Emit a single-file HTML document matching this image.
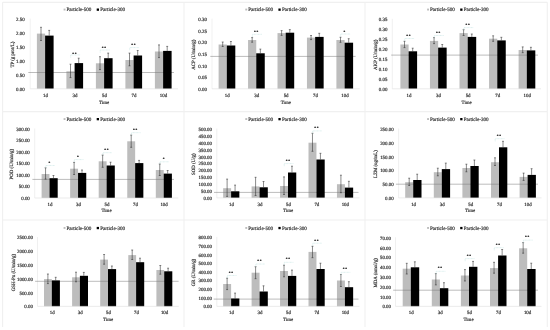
<!DOCTYPE html>
<html lang="en">
<head>
<meta charset="utf-8">
<title>Enzyme activity charts</title>
<style>
html,body{margin:0;padding:0;background:#fff;}
body{width:550px;height:330px;overflow:hidden;}
svg{display:block;}
svg text{font-family:"Liberation Serif", "DejaVu Serif", serif;stroke:#383838;stroke-width:0.2px;}
</style>
</head>
<body>
<svg width="550" height="330" viewBox="0 0 550 330" text-rendering="geometricPrecision">
<rect width="550" height="330" fill="#fff"/>
<g stroke="#f0f0f0" stroke-width="1.1" fill="none">
<line x1="2.6" y1="2.3" x2="2.6" y2="327"/>
<line x1="184.0" y1="2.3" x2="184.0" y2="327"/>
<line x1="365.0" y1="2.3" x2="365.0" y2="327"/>
<line x1="547.3" y1="2.3" x2="547.3" y2="327"/>
<line x1="2.6" y1="2.4" x2="547.3" y2="2.4"/>
<line x1="2.6" y1="111.6" x2="547.3" y2="111.6"/>
<line x1="2.6" y1="220.0" x2="547.3" y2="220.0"/>
</g>
<g id="TP">
<rect x="63.6" y="8.6" width="1.9" height="1.9" fill="#bdbdbd"/>
<text x="66.5" y="11.2" font-size="5.1" fill="#383838">Particle-500</text>
<rect x="96.7" y="8.5" width="2.3" height="2.3" fill="#000"/>
<text x="100.2" y="11.2" font-size="5.1" fill="#383838">Particle-300</text>
<text x="24.6" y="90.75" font-size="4.9" fill="#383838" text-anchor="end">0.00</text>
<text x="24.6" y="76.81" font-size="4.9" fill="#383838" text-anchor="end">0.50</text>
<text x="24.6" y="62.87" font-size="4.9" fill="#383838" text-anchor="end">1.00</text>
<text x="24.6" y="48.93" font-size="4.9" fill="#383838" text-anchor="end">1.50</text>
<text x="24.6" y="34.99" font-size="4.9" fill="#383838" text-anchor="end">2.00</text>
<text x="24.6" y="21.05" font-size="4.9" fill="#383838" text-anchor="end">2.50</text>
<text transform="translate(13.9,54.65) rotate(-90)" font-size="4.9" fill="#383838" text-anchor="middle">TP (g prot/L)</text>
<line x1="30.2" y1="18.6" x2="30.2" y2="88.8" stroke="#e0e0e0" stroke-width="0.5"/>
<rect x="36.9" y="33.6" width="8.2" height="55.2" fill="#bdbdbd"/>
<rect x="66.4" y="71.3" width="8.2" height="17.5" fill="#bdbdbd"/>
<rect x="95.9" y="63.3" width="8.2" height="25.5" fill="#bdbdbd"/>
<rect x="125.4" y="60" width="8.2" height="28.8" fill="#bdbdbd"/>
<rect x="154.9" y="51.5" width="8.2" height="37.3" fill="#bdbdbd"/>
<line x1="28.3" y1="72.5" x2="174" y2="72.5" stroke="#787878" stroke-width="0.5"/>
<rect x="45.1" y="35.6" width="8.5" height="53.2" fill="#000"/>
<rect x="74.6" y="63.1" width="8.5" height="25.7" fill="#000"/>
<rect x="104.1" y="58.2" width="8.5" height="30.6" fill="#000"/>
<rect x="133.6" y="55.5" width="8.5" height="33.3" fill="#000"/>
<rect x="163.1" y="50.9" width="8.5" height="37.9" fill="#000"/>
<line x1="30.2" y1="88.8" x2="178" y2="88.8" stroke="#dedede" stroke-width="0.6"/>
<g stroke="#2a2a2a" stroke-width="0.55" fill="none">
<path d="M41 27.3V40.5M40.05 27.3H41.95M40.05 40.5H41.95"/>
<path d="M49.2 30.4V35.6M48.25 30.4H50.15"/>
<path d="M70.5 64.2V77.6M69.55 64.2H71.45M69.55 77.6H71.45"/>
<path d="M78.7 58.2V63.1M77.75 58.2H79.65"/>
<path d="M100 56.7V69.6M99.05 56.7H100.95M99.05 69.6H100.95"/>
<path d="M108.2 53.1V58.2M107.25 53.1H109.15"/>
<path d="M129.5 53.1V65.8M128.55 53.1H130.45M128.55 65.8H130.45"/>
<path d="M137.7 50.5V55.5M136.75 50.5H138.65"/>
<path d="M159 44.9V57.6M158.05 44.9H159.95M158.05 57.6H159.95"/>
<path d="M167.2 46.4V50.9M166.25 46.4H168.15"/>
</g>
<path d="M70.7 57.5V54.9H80.1" stroke="#b4dcda" stroke-width="0.5" fill="none" stroke-dasharray="0.9 0.5"/>
<text x="74.85" y="54.5" font-size="3.5" font-weight="bold" fill="#111" stroke="none" letter-spacing="0.75" text-anchor="middle">**</text>
<path d="M100.2 52.6V50H109.6" stroke="#b4dcda" stroke-width="0.5" fill="none" stroke-dasharray="0.9 0.5"/>
<text x="104.35" y="49.4" font-size="3.5" font-weight="bold" fill="#111" stroke="none" letter-spacing="0.75" text-anchor="middle">**</text>
<path d="M129.7 50.2V47.6H139.1" stroke="#b4dcda" stroke-width="0.5" fill="none" stroke-dasharray="0.9 0.5"/>
<text x="133.85" y="46.1" font-size="3.5" font-weight="bold" fill="#111" stroke="none" letter-spacing="0.75" text-anchor="middle">**</text>
<text x="45.5" y="96.55" font-size="4.9" fill="#383838" text-anchor="middle">1d</text>
<text x="75" y="96.55" font-size="4.9" fill="#383838" text-anchor="middle">3d</text>
<text x="104.5" y="96.55" font-size="4.9" fill="#383838" text-anchor="middle">5d</text>
<text x="134" y="96.55" font-size="4.9" fill="#383838" text-anchor="middle">7d</text>
<text x="163.5" y="96.55" font-size="4.9" fill="#383838" text-anchor="middle">10d</text>
<text x="104.1" y="103.85" font-size="4.9" fill="#383838" text-anchor="middle">Time</text>
</g>
<g id="ACP">
<rect x="245.3" y="8.6" width="1.9" height="1.9" fill="#bdbdbd"/>
<text x="248.2" y="11.2" font-size="5.1" fill="#383838">Particle-500</text>
<rect x="278.4" y="8.5" width="2.3" height="2.3" fill="#000"/>
<text x="281.9" y="11.2" font-size="5.1" fill="#383838">Particle-300</text>
<text x="206.9" y="90.75" font-size="4.9" fill="#383838" text-anchor="end">0.00</text>
<text x="206.9" y="79.15" font-size="4.9" fill="#383838" text-anchor="end">0.05</text>
<text x="206.9" y="67.55" font-size="4.9" fill="#383838" text-anchor="end">0.10</text>
<text x="206.9" y="55.95" font-size="4.9" fill="#383838" text-anchor="end">0.15</text>
<text x="206.9" y="44.35" font-size="4.9" fill="#383838" text-anchor="end">0.20</text>
<text x="206.9" y="32.75" font-size="4.9" fill="#383838" text-anchor="end">0.25</text>
<text x="206.9" y="21.15" font-size="4.9" fill="#383838" text-anchor="end">0.30</text>
<text transform="translate(194.7,54.7) rotate(-90)" font-size="4.9" fill="#383838" text-anchor="middle">ACP  (U/min/g)</text>
<line x1="212" y1="18.7" x2="212" y2="88.8" stroke="#e0e0e0" stroke-width="0.5"/>
<rect x="218.6" y="44.5" width="8.2" height="44.3" fill="#bdbdbd"/>
<rect x="248.05" y="40" width="8.2" height="48.8" fill="#bdbdbd"/>
<rect x="277.5" y="33.1" width="8.2" height="55.7" fill="#bdbdbd"/>
<rect x="306.95" y="37.6" width="8.2" height="51.2" fill="#bdbdbd"/>
<rect x="336.4" y="40" width="8.2" height="48.8" fill="#bdbdbd"/>
<line x1="210.3" y1="56.4" x2="355.6" y2="56.4" stroke="#787878" stroke-width="0.5"/>
<rect x="226.8" y="45.5" width="8.5" height="43.3" fill="#000"/>
<rect x="256.25" y="53.3" width="8.5" height="35.5" fill="#000"/>
<rect x="285.7" y="32.7" width="8.5" height="56.1" fill="#000"/>
<rect x="315.15" y="36.9" width="8.5" height="51.9" fill="#000"/>
<rect x="344.6" y="42.7" width="8.5" height="46.1" fill="#000"/>
<line x1="212" y1="88.8" x2="359.7" y2="88.8" stroke="#dedede" stroke-width="0.6"/>
<g stroke="#2a2a2a" stroke-width="0.55" fill="none">
<path d="M222.7 42V46.5M221.75 42H223.65M221.75 46.5H223.65"/>
<path d="M230.9 41.5V45.5M229.95 41.5H231.85"/>
<path d="M252.15 37.6V42.2M251.2 37.6H253.1M251.2 42.2H253.1"/>
<path d="M260.35 49.1V53.3M259.4 49.1H261.3"/>
<path d="M281.6 30.6V35.4M280.65 30.6H282.55M280.65 35.4H282.55"/>
<path d="M289.8 29.6V32.7M288.85 29.6H290.75"/>
<path d="M311.05 35.5V39.6M310.1 35.5H312M310.1 39.6H312"/>
<path d="M319.25 33.3V36.9M318.3 33.3H320.2"/>
<path d="M340.5 37.3V42.3M339.55 37.3H341.45M339.55 42.3H341.45"/>
<path d="M348.7 38.7V42.7M347.75 38.7H349.65"/>
</g>
<path d="M252.35 36.9V34.3H261.75" stroke="#b4dcda" stroke-width="0.5" fill="none" stroke-dasharray="0.9 0.5"/>
<text x="256.5" y="32.5" font-size="3.5" font-weight="bold" fill="#111" stroke="none" letter-spacing="0.75" text-anchor="middle">**</text>
<path d="M340.7 36.6V34H350.1" stroke="#b4dcda" stroke-width="0.5" fill="none" stroke-dasharray="0.9 0.5"/>
<text x="344.85" y="32.6" font-size="3.5" font-weight="bold" fill="#111" stroke="none" letter-spacing="0.75" text-anchor="middle">*</text>
<text x="227.2" y="96.55" font-size="4.9" fill="#383838" text-anchor="middle">1d</text>
<text x="256.65" y="96.55" font-size="4.9" fill="#383838" text-anchor="middle">3d</text>
<text x="286.1" y="96.55" font-size="4.9" fill="#383838" text-anchor="middle">5d</text>
<text x="315.55" y="96.55" font-size="4.9" fill="#383838" text-anchor="middle">7d</text>
<text x="345" y="96.55" font-size="4.9" fill="#383838" text-anchor="middle">10d</text>
<text x="285.85" y="103.85" font-size="4.9" fill="#383838" text-anchor="middle">Time</text>
</g>
<g id="AKP">
<rect x="427.1" y="8.6" width="1.9" height="1.9" fill="#bdbdbd"/>
<text x="430" y="11.2" font-size="5.1" fill="#383838">Particle-500</text>
<rect x="460.2" y="8.5" width="2.3" height="2.3" fill="#000"/>
<text x="463.7" y="11.2" font-size="5.1" fill="#383838">Particle-300</text>
<text x="387.4" y="90.75" font-size="4.9" fill="#383838" text-anchor="end">0.00</text>
<text x="387.4" y="80.82" font-size="4.9" fill="#383838" text-anchor="end">0.05</text>
<text x="387.4" y="70.89" font-size="4.9" fill="#383838" text-anchor="end">0.10</text>
<text x="387.4" y="60.96" font-size="4.9" fill="#383838" text-anchor="end">0.15</text>
<text x="387.4" y="51.04" font-size="4.9" fill="#383838" text-anchor="end">0.20</text>
<text x="387.4" y="41.11" font-size="4.9" fill="#383838" text-anchor="end">0.25</text>
<text x="387.4" y="31.18" font-size="4.9" fill="#383838" text-anchor="end">0.30</text>
<text x="387.4" y="21.25" font-size="4.9" fill="#383838" text-anchor="end">0.35</text>
<text transform="translate(376.5,54.75) rotate(-90)" font-size="4.9" fill="#383838" text-anchor="middle">AKP (U/min/g)</text>
<line x1="392.3" y1="18.8" x2="392.3" y2="88.8" stroke="#e0e0e0" stroke-width="0.5"/>
<rect x="400.4" y="44.5" width="8.2" height="44.3" fill="#bdbdbd"/>
<rect x="429.95" y="40.9" width="8.2" height="47.9" fill="#bdbdbd"/>
<rect x="459.5" y="33.1" width="8.2" height="55.7" fill="#bdbdbd"/>
<rect x="489.05" y="38.7" width="8.2" height="50.1" fill="#bdbdbd"/>
<rect x="518.6" y="50" width="8.2" height="38.8" fill="#bdbdbd"/>
<line x1="391.2" y1="55.1" x2="538" y2="55.1" stroke="#787878" stroke-width="0.5"/>
<rect x="408.6" y="51.3" width="8.5" height="37.5" fill="#000"/>
<rect x="438.15" y="47.6" width="8.5" height="41.2" fill="#000"/>
<rect x="467.7" y="36.9" width="8.5" height="51.9" fill="#000"/>
<rect x="497.25" y="40.4" width="8.5" height="48.4" fill="#000"/>
<rect x="526.8" y="50.4" width="8.5" height="38.4" fill="#000"/>
<line x1="392.3" y1="88.8" x2="541" y2="88.8" stroke="#dedede" stroke-width="0.6"/>
<g stroke="#2a2a2a" stroke-width="0.55" fill="none">
<path d="M404.5 41.3V47.6M403.55 41.3H405.45M403.55 47.6H405.45"/>
<path d="M412.7 48.2V51.3M411.75 48.2H413.65"/>
<path d="M434.05 37.6V43.6M433.1 37.6H435M433.1 43.6H435"/>
<path d="M442.25 44.5V47.6M441.3 44.5H443.2"/>
<path d="M463.6 29.7V35.5M462.65 29.7H464.55M462.65 35.5H464.55"/>
<path d="M471.8 34V36.9M470.85 34H472.75"/>
<path d="M493.15 35.8V41.3M492.2 35.8H494.1M492.2 41.3H494.1"/>
<path d="M501.35 37.3V40.4M500.4 37.3H502.3"/>
<path d="M522.7 46.9V52.7M521.75 46.9H523.65M521.75 52.7H523.65"/>
<path d="M530.9 47.3V50.4M529.95 47.3H531.85"/>
</g>
<path d="M404.7 41.1V38.5H414.1" stroke="#b4dcda" stroke-width="0.5" fill="none" stroke-dasharray="0.9 0.5"/>
<text x="408.85" y="36.6" font-size="3.5" font-weight="bold" fill="#111" stroke="none" letter-spacing="0.75" text-anchor="middle">**</text>
<path d="M434.25 38.1V35.5H443.65" stroke="#b4dcda" stroke-width="0.5" fill="none" stroke-dasharray="0.9 0.5"/>
<text x="438.4" y="33.6" font-size="3.5" font-weight="bold" fill="#111" stroke="none" letter-spacing="0.75" text-anchor="middle">**</text>
<path d="M463.8 30.2V27.6H473.2" stroke="#b4dcda" stroke-width="0.5" fill="none" stroke-dasharray="0.9 0.5"/>
<text x="467.95" y="26.3" font-size="3.5" font-weight="bold" fill="#111" stroke="none" letter-spacing="0.75" text-anchor="middle">**</text>
<text x="409" y="96.55" font-size="4.9" fill="#383838" text-anchor="middle">1d</text>
<text x="438.55" y="96.55" font-size="4.9" fill="#383838" text-anchor="middle">3d</text>
<text x="468.1" y="96.55" font-size="4.9" fill="#383838" text-anchor="middle">5d</text>
<text x="497.65" y="96.55" font-size="4.9" fill="#383838" text-anchor="middle">7d</text>
<text x="527.2" y="96.55" font-size="4.9" fill="#383838" text-anchor="middle">10d</text>
<text x="466.65" y="103.85" font-size="4.9" fill="#383838" text-anchor="middle">Time</text>
</g>
<g id="POD">
<rect x="63.6" y="118.1" width="1.9" height="1.9" fill="#bdbdbd"/>
<text x="66.5" y="120.7" font-size="5.1" fill="#383838">Particle-500</text>
<rect x="96.7" y="118" width="2.3" height="2.3" fill="#000"/>
<text x="100.2" y="120.7" font-size="5.1" fill="#383838">Particle-300</text>
<text x="29.8" y="199.95" font-size="4.9" fill="#383838" text-anchor="end">0.00</text>
<text x="29.8" y="188.45" font-size="4.9" fill="#383838" text-anchor="end">50.00</text>
<text x="29.8" y="176.95" font-size="4.9" fill="#383838" text-anchor="end">100.00</text>
<text x="29.8" y="165.45" font-size="4.9" fill="#383838" text-anchor="end">150.00</text>
<text x="29.8" y="153.95" font-size="4.9" fill="#383838" text-anchor="end">200.00</text>
<text x="29.8" y="142.45" font-size="4.9" fill="#383838" text-anchor="end">250.00</text>
<text x="29.8" y="130.95" font-size="4.9" fill="#383838" text-anchor="end">300.00</text>
<text transform="translate(13,164.2) rotate(-90)" font-size="4.9" fill="#383838" text-anchor="middle">POD (U/min/g)</text>
<line x1="34.7" y1="128.5" x2="34.7" y2="198" stroke="#e0e0e0" stroke-width="0.5"/>
<rect x="41.6" y="174" width="7.9" height="24" fill="#bdbdbd"/>
<rect x="70.15" y="168.7" width="7.9" height="29.3" fill="#bdbdbd"/>
<rect x="98.7" y="161.3" width="7.9" height="36.7" fill="#bdbdbd"/>
<rect x="127.25" y="141.3" width="7.9" height="56.7" fill="#bdbdbd"/>
<rect x="155.8" y="170" width="7.9" height="28" fill="#bdbdbd"/>
<line x1="32.4" y1="179.4" x2="174" y2="179.4" stroke="#787878" stroke-width="0.5"/>
<rect x="49.5" y="178.2" width="8.2" height="19.8" fill="#000"/>
<rect x="78.05" y="172.9" width="8.2" height="25.1" fill="#000"/>
<rect x="106.6" y="165.5" width="8.2" height="32.5" fill="#000"/>
<rect x="135.15" y="163.1" width="8.2" height="34.9" fill="#000"/>
<rect x="163.7" y="173.6" width="8.2" height="24.4" fill="#000"/>
<line x1="34.7" y1="198" x2="178.3" y2="198" stroke="#dedede" stroke-width="0.6"/>
<g stroke="#2a2a2a" stroke-width="0.55" fill="none">
<path d="M45.55 167.8V179.1M44.6 167.8H46.5M44.6 179.1H46.5"/>
<path d="M53.45 175.5V178.2M52.5 175.5H54.4"/>
<path d="M74.1 162.4V174.5M73.15 162.4H75.05M73.15 174.5H75.05"/>
<path d="M82 170V172.9M81.05 170H82.95"/>
<path d="M102.65 155.1V167.3M101.7 155.1H103.6M101.7 167.3H103.6"/>
<path d="M110.55 162.2V165.5M109.6 162.2H111.5"/>
<path d="M131.2 135.1V147.3M130.25 135.1H132.15M130.25 147.3H132.15"/>
<path d="M139.1 160.4V163.1M138.15 160.4H140.05"/>
<path d="M159.75 164V175.5M158.8 164H160.7M158.8 175.5H160.7"/>
<path d="M167.65 170.5V173.6M166.7 170.5H168.6"/>
</g>
<path d="M45.75 168.1V165.5H54.85" stroke="#b4dcda" stroke-width="0.5" fill="none" stroke-dasharray="0.9 0.5"/>
<text x="49.75" y="163.9" font-size="3.5" font-weight="bold" fill="#111" stroke="none" letter-spacing="0.75" text-anchor="middle">*</text>
<path d="M74.3 162.2V159.6H83.4" stroke="#b4dcda" stroke-width="0.5" fill="none" stroke-dasharray="0.9 0.5"/>
<text x="78.3" y="158.1" font-size="3.5" font-weight="bold" fill="#111" stroke="none" letter-spacing="0.75" text-anchor="middle">*</text>
<path d="M102.85 155.3V152.7H111.95" stroke="#b4dcda" stroke-width="0.5" fill="none" stroke-dasharray="0.9 0.5"/>
<text x="106.85" y="150.8" font-size="3.5" font-weight="bold" fill="#111" stroke="none" letter-spacing="0.75" text-anchor="middle">**</text>
<path d="M131.4 135.3V132.7H140.5" stroke="#b4dcda" stroke-width="0.5" fill="none" stroke-dasharray="0.9 0.5"/>
<text x="135.4" y="130.6" font-size="3.5" font-weight="bold" fill="#111" stroke="none" letter-spacing="0.75" text-anchor="middle">**</text>
<path d="M159.95 164.4V161.8H169.05" stroke="#b4dcda" stroke-width="0.5" fill="none" stroke-dasharray="0.9 0.5"/>
<text x="163.95" y="159.9" font-size="3.5" font-weight="bold" fill="#111" stroke="none" letter-spacing="0.75" text-anchor="middle">*</text>
<text x="49.9" y="205.75" font-size="4.9" fill="#383838" text-anchor="middle">1d</text>
<text x="78.45" y="205.75" font-size="4.9" fill="#383838" text-anchor="middle">3d</text>
<text x="107" y="205.75" font-size="4.9" fill="#383838" text-anchor="middle">5d</text>
<text x="135.55" y="205.75" font-size="4.9" fill="#383838" text-anchor="middle">7d</text>
<text x="164.1" y="205.75" font-size="4.9" fill="#383838" text-anchor="middle">10d</text>
<text x="106.5" y="212.25" font-size="4.9" fill="#383838" text-anchor="middle">Time</text>
</g>
<g id="SOD">
<rect x="245.3" y="118.1" width="1.9" height="1.9" fill="#bdbdbd"/>
<text x="248.2" y="120.7" font-size="5.1" fill="#383838">Particle-500</text>
<rect x="278.4" y="118" width="2.3" height="2.3" fill="#000"/>
<text x="281.9" y="120.7" font-size="5.1" fill="#383838">Particle-300</text>
<text x="212" y="199.85" font-size="4.9" fill="#383838" text-anchor="end">0.00</text>
<text x="212" y="192.96" font-size="4.9" fill="#383838" text-anchor="end">50.00</text>
<text x="212" y="186.07" font-size="4.9" fill="#383838" text-anchor="end">100.00</text>
<text x="212" y="179.18" font-size="4.9" fill="#383838" text-anchor="end">150.00</text>
<text x="212" y="172.29" font-size="4.9" fill="#383838" text-anchor="end">200.00</text>
<text x="212" y="165.4" font-size="4.9" fill="#383838" text-anchor="end">250.00</text>
<text x="212" y="158.51" font-size="4.9" fill="#383838" text-anchor="end">300.00</text>
<text x="212" y="151.62" font-size="4.9" fill="#383838" text-anchor="end">350.00</text>
<text x="212" y="144.73" font-size="4.9" fill="#383838" text-anchor="end">400.00</text>
<text x="212" y="137.84" font-size="4.9" fill="#383838" text-anchor="end">450.00</text>
<text x="212" y="130.95" font-size="4.9" fill="#383838" text-anchor="end">500.00</text>
<text transform="translate(194.7,164.15) rotate(-90)" font-size="4.9" fill="#383838" text-anchor="middle">SOD (U/g)</text>
<line x1="216.8" y1="128.5" x2="216.8" y2="197.9" stroke="#e0e0e0" stroke-width="0.5"/>
<rect x="223.15" y="188.2" width="7.95" height="9.7" fill="#bdbdbd"/>
<rect x="251.6" y="186.4" width="7.95" height="11.5" fill="#bdbdbd"/>
<rect x="280.05" y="186" width="7.95" height="11.9" fill="#bdbdbd"/>
<rect x="308.5" y="142.7" width="7.95" height="55.2" fill="#bdbdbd"/>
<rect x="336.95" y="184.2" width="7.95" height="13.7" fill="#bdbdbd"/>
<line x1="214" y1="192.4" x2="358.5" y2="192.4" stroke="#787878" stroke-width="0.5"/>
<rect x="231.1" y="191.3" width="8.25" height="6.6" fill="#000"/>
<rect x="259.55" y="187.3" width="8.25" height="10.6" fill="#000"/>
<rect x="288" y="172.5" width="8.25" height="25.4" fill="#000"/>
<rect x="316.45" y="159.5" width="8.25" height="38.4" fill="#000"/>
<rect x="344.9" y="187.6" width="8.25" height="10.3" fill="#000"/>
<line x1="216.8" y1="197.9" x2="359.5" y2="197.9" stroke="#dedede" stroke-width="0.6"/>
<g stroke="#2a2a2a" stroke-width="0.55" fill="none">
<path d="M227.12 179.1V196.4M226.18 179.1H228.07M226.18 196.4H228.07"/>
<path d="M235.07 185.1V191.3M234.12 185.1H236.02"/>
<path d="M255.58 177.3V195.5M254.63 177.3H256.53M254.63 195.5H256.53"/>
<path d="M263.53 181.5V187.3M262.58 181.5H264.48"/>
<path d="M284.02 176.9V194.5M283.07 176.9H284.97M283.07 194.5H284.97"/>
<path d="M291.98 166.2V172.5M291.03 166.2H292.93"/>
<path d="M312.47 133.3V151.3M311.52 133.3H313.42M311.52 151.3H313.42"/>
<path d="M320.43 153.3V159.5M319.48 153.3H321.38"/>
<path d="M340.92 175.2V192.7M339.97 175.2H341.87M339.97 192.7H341.87"/>
<path d="M348.88 181.3V187.6M347.93 181.3H349.82"/>
</g>
<path d="M284.22 166.2V163.6H293.38" stroke="#b4dcda" stroke-width="0.5" fill="none" stroke-dasharray="0.9 0.5"/>
<text x="288.25" y="161.7" font-size="3.5" font-weight="bold" fill="#111" stroke="none" letter-spacing="0.75" text-anchor="middle">**</text>
<path d="M312.67 133.5V130.9H321.82" stroke="#b4dcda" stroke-width="0.5" fill="none" stroke-dasharray="0.9 0.5"/>
<text x="316.7" y="129.4" font-size="3.5" font-weight="bold" fill="#111" stroke="none" letter-spacing="0.75" text-anchor="middle">**</text>
<text x="231.5" y="205.75" font-size="4.9" fill="#383838" text-anchor="middle">1d</text>
<text x="259.95" y="205.75" font-size="4.9" fill="#383838" text-anchor="middle">3d</text>
<text x="288.4" y="205.75" font-size="4.9" fill="#383838" text-anchor="middle">5d</text>
<text x="316.85" y="205.75" font-size="4.9" fill="#383838" text-anchor="middle">7d</text>
<text x="345.3" y="205.75" font-size="4.9" fill="#383838" text-anchor="middle">10d</text>
<text x="288.15" y="212.25" font-size="4.9" fill="#383838" text-anchor="middle">Time</text>
</g>
<g id="LZM">
<rect x="427.1" y="118.1" width="1.9" height="1.9" fill="#bdbdbd"/>
<text x="430" y="120.7" font-size="5.1" fill="#383838">Particle-500</text>
<rect x="460.2" y="118" width="2.3" height="2.3" fill="#000"/>
<text x="463.7" y="120.7" font-size="5.1" fill="#383838">Particle-300</text>
<text x="393.6" y="199.85" font-size="4.9" fill="#383838" text-anchor="end">0.00</text>
<text x="393.6" y="186.07" font-size="4.9" fill="#383838" text-anchor="end">50.00</text>
<text x="393.6" y="172.29" font-size="4.9" fill="#383838" text-anchor="end">100.00</text>
<text x="393.6" y="158.51" font-size="4.9" fill="#383838" text-anchor="end">150.00</text>
<text x="393.6" y="144.73" font-size="4.9" fill="#383838" text-anchor="end">200.00</text>
<text x="393.6" y="130.95" font-size="4.9" fill="#383838" text-anchor="end">250.00</text>
<text transform="translate(376.5,164.15) rotate(-90)" font-size="4.9" fill="#383838" text-anchor="middle">LZM (ug/mL)</text>
<line x1="398.6" y1="128.5" x2="398.6" y2="197.9" stroke="#e0e0e0" stroke-width="0.5"/>
<rect x="405.2" y="182.2" width="8" height="15.7" fill="#bdbdbd"/>
<rect x="433.8" y="172.2" width="8" height="25.7" fill="#bdbdbd"/>
<rect x="462.4" y="168" width="8" height="29.9" fill="#bdbdbd"/>
<rect x="491" y="162.2" width="8" height="35.7" fill="#bdbdbd"/>
<rect x="519.6" y="176.9" width="8" height="21" fill="#bdbdbd"/>
<line x1="395.9" y1="184.2" x2="538" y2="184.2" stroke="#787878" stroke-width="0.5"/>
<rect x="413.2" y="180" width="8.3" height="17.9" fill="#000"/>
<rect x="441.8" y="169.1" width="8.3" height="28.8" fill="#000"/>
<rect x="470.4" y="166" width="8.3" height="31.9" fill="#000"/>
<rect x="499" y="147.3" width="8.3" height="50.6" fill="#000"/>
<rect x="527.6" y="174.9" width="8.3" height="23" fill="#000"/>
<line x1="398.6" y1="197.9" x2="541.5" y2="197.9" stroke="#dedede" stroke-width="0.6"/>
<g stroke="#2a2a2a" stroke-width="0.55" fill="none">
<path d="M409.2 178.2V185.5M408.25 178.2H410.15M408.25 185.5H410.15"/>
<path d="M417.2 174.2V180M416.25 174.2H418.15"/>
<path d="M437.8 168.2V175.8M436.85 168.2H438.75M436.85 175.8H438.75"/>
<path d="M445.8 163.1V169.1M444.85 163.1H446.75"/>
<path d="M466.4 164.2V171.8M465.45 164.2H467.35M465.45 171.8H467.35"/>
<path d="M474.4 160V166M473.45 160H475.35"/>
<path d="M495 157.8V165.5M494.05 157.8H495.95M494.05 165.5H495.95"/>
<path d="M503 141.3V147.3M502.05 141.3H503.95"/>
<path d="M523.6 173.1V180.4M522.65 173.1H524.55M522.65 180.4H524.55"/>
<path d="M531.6 168.7V174.9M530.65 168.7H532.55"/>
</g>
<path d="M495.2 141.3V138.7H504.4" stroke="#b4dcda" stroke-width="0.5" fill="none" stroke-dasharray="0.9 0.5"/>
<text x="499.25" y="137.2" font-size="3.5" font-weight="bold" fill="#111" stroke="none" letter-spacing="0.75" text-anchor="middle">**</text>
<text x="413.6" y="205.75" font-size="4.9" fill="#383838" text-anchor="middle">1d</text>
<text x="442.2" y="205.75" font-size="4.9" fill="#383838" text-anchor="middle">3d</text>
<text x="470.8" y="205.75" font-size="4.9" fill="#383838" text-anchor="middle">5d</text>
<text x="499.4" y="205.75" font-size="4.9" fill="#383838" text-anchor="middle">7d</text>
<text x="528" y="205.75" font-size="4.9" fill="#383838" text-anchor="middle">10d</text>
<text x="470.05" y="212.25" font-size="4.9" fill="#383838" text-anchor="middle">Time</text>
</g>
<g id="GSH">
<rect x="63.6" y="227" width="1.9" height="1.9" fill="#bdbdbd"/>
<text x="66.5" y="229.6" font-size="5.1" fill="#383838">Particle-500</text>
<rect x="96.7" y="226.9" width="2.3" height="2.3" fill="#000"/>
<text x="100.2" y="229.6" font-size="5.1" fill="#383838">Particle-300</text>
<text x="32.9" y="308.3" font-size="4.9" fill="#383838" text-anchor="end">0.00</text>
<text x="32.9" y="294.53" font-size="4.9" fill="#383838" text-anchor="end">500.00</text>
<text x="32.9" y="280.76" font-size="4.9" fill="#383838" text-anchor="end">1000.00</text>
<text x="32.9" y="266.99" font-size="4.9" fill="#383838" text-anchor="end">1500.00</text>
<text x="32.9" y="253.22" font-size="4.9" fill="#383838" text-anchor="end">2000.00</text>
<text x="32.9" y="239.45" font-size="4.9" fill="#383838" text-anchor="end">2500.00</text>
<text transform="translate(14.8,272.62) rotate(-90)" font-size="4.9" fill="#383838" text-anchor="middle">GSH-Px (U/min/g)</text>
<line x1="37.5" y1="237" x2="37.5" y2="306.35" stroke="#e0e0e0" stroke-width="0.5"/>
<rect x="44" y="279.1" width="7.8" height="27.25" fill="#bdbdbd"/>
<rect x="72.1" y="277.3" width="7.8" height="29.05" fill="#bdbdbd"/>
<rect x="100.2" y="259.6" width="7.8" height="46.75" fill="#bdbdbd"/>
<rect x="128.3" y="255.1" width="7.8" height="51.25" fill="#bdbdbd"/>
<rect x="156.4" y="270" width="7.8" height="36.35" fill="#bdbdbd"/>
<line x1="35.1" y1="281.3" x2="178.6" y2="281.3" stroke="#787878" stroke-width="0.5"/>
<rect x="51.8" y="280.4" width="8.1" height="25.95" fill="#000"/>
<rect x="79.9" y="275.8" width="8.1" height="30.55" fill="#000"/>
<rect x="108" y="269.1" width="8.1" height="37.25" fill="#000"/>
<rect x="136.1" y="262.2" width="8.1" height="44.15" fill="#000"/>
<rect x="164.2" y="271.3" width="8.1" height="35.05" fill="#000"/>
<line x1="37.5" y1="306.35" x2="178.8" y2="306.35" stroke="#dedede" stroke-width="0.6"/>
<g stroke="#2a2a2a" stroke-width="0.55" fill="none">
<path d="M47.9 274V283.6M46.95 274H48.85M46.95 283.6H48.85"/>
<path d="M55.7 277.3V280.4M54.75 277.3H56.65"/>
<path d="M76 272.2V281.8M75.05 272.2H76.95M75.05 281.8H76.95"/>
<path d="M83.8 272.4V275.8M82.85 272.4H84.75"/>
<path d="M104.1 254.5V264.2M103.15 254.5H105.05M103.15 264.2H105.05"/>
<path d="M111.9 266V269.1M110.95 266H112.85"/>
<path d="M132.2 250V259.5M131.25 250H133.15M131.25 259.5H133.15"/>
<path d="M140 258.2V262.2M139.05 258.2H140.95"/>
<path d="M160.3 265.5V274.2M159.35 265.5H161.25M159.35 274.2H161.25"/>
<path d="M168.1 268.2V271.3M167.15 268.2H169.05"/>
</g>
<text x="52.2" y="313.75" font-size="4.9" fill="#383838" text-anchor="middle">1d</text>
<text x="80.3" y="313.75" font-size="4.9" fill="#383838" text-anchor="middle">3d</text>
<text x="108.4" y="313.75" font-size="4.9" fill="#383838" text-anchor="middle">5d</text>
<text x="136.5" y="313.75" font-size="4.9" fill="#383838" text-anchor="middle">7d</text>
<text x="164.6" y="313.75" font-size="4.9" fill="#383838" text-anchor="middle">10d</text>
<text x="108.15" y="321.05" font-size="4.9" fill="#383838" text-anchor="middle">Time</text>
</g>
<g id="GR">
<rect x="245.3" y="227" width="1.9" height="1.9" fill="#bdbdbd"/>
<text x="248.2" y="229.6" font-size="5.1" fill="#383838">Particle-500</text>
<rect x="278.4" y="226.9" width="2.3" height="2.3" fill="#000"/>
<text x="281.9" y="229.6" font-size="5.1" fill="#383838">Particle-300</text>
<text x="212" y="308.3" font-size="4.9" fill="#383838" text-anchor="end">0.00</text>
<text x="212" y="299.68" font-size="4.9" fill="#383838" text-anchor="end">100.00</text>
<text x="212" y="291.06" font-size="4.9" fill="#383838" text-anchor="end">200.00</text>
<text x="212" y="282.44" font-size="4.9" fill="#383838" text-anchor="end">300.00</text>
<text x="212" y="273.82" font-size="4.9" fill="#383838" text-anchor="end">400.00</text>
<text x="212" y="265.21" font-size="4.9" fill="#383838" text-anchor="end">500.00</text>
<text x="212" y="256.59" font-size="4.9" fill="#383838" text-anchor="end">600.00</text>
<text x="212" y="247.97" font-size="4.9" fill="#383838" text-anchor="end">700.00</text>
<text x="212" y="239.35" font-size="4.9" fill="#383838" text-anchor="end">800.00</text>
<text transform="translate(195,272.57) rotate(-90)" font-size="4.9" fill="#383838" text-anchor="middle">GR (U/min/g)</text>
<line x1="216.8" y1="236.9" x2="216.8" y2="306.35" stroke="#e0e0e0" stroke-width="0.5"/>
<rect x="223.15" y="284" width="7.95" height="22.35" fill="#bdbdbd"/>
<rect x="251.6" y="272.7" width="7.95" height="33.65" fill="#bdbdbd"/>
<rect x="280.05" y="271" width="7.95" height="35.35" fill="#bdbdbd"/>
<rect x="308.5" y="251.9" width="7.95" height="54.45" fill="#bdbdbd"/>
<rect x="336.95" y="280.5" width="7.95" height="25.85" fill="#bdbdbd"/>
<line x1="213.7" y1="299.1" x2="358.5" y2="299.1" stroke="#787878" stroke-width="0.5"/>
<rect x="231.1" y="298.5" width="8.25" height="7.85" fill="#000"/>
<rect x="259.55" y="291.5" width="8.25" height="14.85" fill="#000"/>
<rect x="288" y="275.9" width="8.25" height="30.45" fill="#000"/>
<rect x="316.45" y="269" width="8.25" height="37.35" fill="#000"/>
<rect x="344.9" y="287.2" width="8.25" height="19.15" fill="#000"/>
<line x1="216.8" y1="306.35" x2="359.5" y2="306.35" stroke="#dedede" stroke-width="0.6"/>
<g stroke="#2a2a2a" stroke-width="0.55" fill="none">
<path d="M227.12 278.2V289.6M226.18 278.2H228.07M226.18 289.6H228.07"/>
<path d="M235.07 293.1V298.5M234.12 293.1H236.02"/>
<path d="M255.58 266.7V278.7M254.63 266.7H256.53M254.63 278.7H256.53"/>
<path d="M263.53 285.8V291.5M262.58 285.8H264.48"/>
<path d="M284.02 265.2V276.8M283.07 265.2H284.97M283.07 276.8H284.97"/>
<path d="M291.98 270.1V275.9M291.03 270.1H292.93"/>
<path d="M312.47 246.3V257.7M311.52 246.3H313.42M311.52 257.7H313.42"/>
<path d="M320.43 263.2V269M319.48 263.2H321.38"/>
<path d="M340.92 274.5V286.5M339.97 274.5H341.87M339.97 286.5H341.87"/>
<path d="M348.88 281.7V287.2M347.93 281.7H349.82"/>
</g>
<path d="M227.32 278.1V275.5H236.47" stroke="#b4dcda" stroke-width="0.5" fill="none" stroke-dasharray="0.9 0.5"/>
<text x="231.35" y="273.6" font-size="3.5" font-weight="bold" fill="#111" stroke="none" letter-spacing="0.75" text-anchor="middle">**</text>
<path d="M255.78 266.6V264H264.93" stroke="#b4dcda" stroke-width="0.5" fill="none" stroke-dasharray="0.9 0.5"/>
<text x="259.8" y="262.1" font-size="3.5" font-weight="bold" fill="#111" stroke="none" letter-spacing="0.75" text-anchor="middle">**</text>
<path d="M284.22 264.9V262.3H293.38" stroke="#b4dcda" stroke-width="0.5" fill="none" stroke-dasharray="0.9 0.5"/>
<text x="288.25" y="260.4" font-size="3.5" font-weight="bold" fill="#111" stroke="none" letter-spacing="0.75" text-anchor="middle">**</text>
<path d="M312.67 245.8V243.2H321.82" stroke="#b4dcda" stroke-width="0.5" fill="none" stroke-dasharray="0.9 0.5"/>
<text x="316.7" y="241.6" font-size="3.5" font-weight="bold" fill="#111" stroke="none" letter-spacing="0.75" text-anchor="middle">**</text>
<path d="M341.12 274.9V272.3H350.27" stroke="#b4dcda" stroke-width="0.5" fill="none" stroke-dasharray="0.9 0.5"/>
<text x="345.15" y="270.4" font-size="3.5" font-weight="bold" fill="#111" stroke="none" letter-spacing="0.75" text-anchor="middle">**</text>
<text x="231.5" y="313.75" font-size="4.9" fill="#383838" text-anchor="middle">1d</text>
<text x="259.95" y="313.75" font-size="4.9" fill="#383838" text-anchor="middle">3d</text>
<text x="288.4" y="313.75" font-size="4.9" fill="#383838" text-anchor="middle">5d</text>
<text x="316.85" y="313.75" font-size="4.9" fill="#383838" text-anchor="middle">7d</text>
<text x="345.3" y="313.75" font-size="4.9" fill="#383838" text-anchor="middle">10d</text>
<text x="288.15" y="321.05" font-size="4.9" fill="#383838" text-anchor="middle">Time</text>
</g>
<g id="MDA">
<rect x="427.1" y="227" width="1.9" height="1.9" fill="#bdbdbd"/>
<text x="430" y="229.6" font-size="5.1" fill="#383838">Particle-500</text>
<rect x="460.2" y="226.9" width="2.3" height="2.3" fill="#000"/>
<text x="463.7" y="229.6" font-size="5.1" fill="#383838">Particle-300</text>
<text x="391" y="308.3" font-size="4.9" fill="#383838" text-anchor="end">0.00</text>
<text x="391" y="298.51" font-size="4.9" fill="#383838" text-anchor="end">10.00</text>
<text x="391" y="288.71" font-size="4.9" fill="#383838" text-anchor="end">20.00</text>
<text x="391" y="278.92" font-size="4.9" fill="#383838" text-anchor="end">30.00</text>
<text x="391" y="269.13" font-size="4.9" fill="#383838" text-anchor="end">40.00</text>
<text x="391" y="259.34" font-size="4.9" fill="#383838" text-anchor="end">50.00</text>
<text x="391" y="249.54" font-size="4.9" fill="#383838" text-anchor="end">60.00</text>
<text x="391" y="239.75" font-size="4.9" fill="#383838" text-anchor="end">70.00</text>
<text transform="translate(376.5,272.78) rotate(-90)" font-size="4.9" fill="#383838" text-anchor="middle">MDA (nmol/g)</text>
<line x1="395.5" y1="237.3" x2="395.5" y2="306.35" stroke="#e0e0e0" stroke-width="0.5"/>
<rect x="402.7" y="268.7" width="8.1" height="37.65" fill="#bdbdbd"/>
<rect x="431.8" y="279.5" width="8.1" height="26.85" fill="#bdbdbd"/>
<rect x="460.9" y="275.5" width="8.1" height="30.85" fill="#bdbdbd"/>
<rect x="490" y="268.1" width="8.1" height="38.25" fill="#bdbdbd"/>
<rect x="519.1" y="248.3" width="8.1" height="58.05" fill="#bdbdbd"/>
<line x1="393.2" y1="290.2" x2="538" y2="290.2" stroke="#787878" stroke-width="0.5"/>
<rect x="410.8" y="267.3" width="8.4" height="39.05" fill="#000"/>
<rect x="439.9" y="288.2" width="8.4" height="18.15" fill="#000"/>
<rect x="469" y="266.8" width="8.4" height="39.55" fill="#000"/>
<rect x="498.1" y="255.5" width="8.4" height="50.85" fill="#000"/>
<rect x="527.2" y="269" width="8.4" height="37.35" fill="#000"/>
<line x1="395.5" y1="306.35" x2="541.5" y2="306.35" stroke="#dedede" stroke-width="0.6"/>
<g stroke="#2a2a2a" stroke-width="0.55" fill="none">
<path d="M406.75 263.3V274M405.8 263.3H407.7M405.8 274H407.7"/>
<path d="M414.85 261.8V267.3M413.9 261.8H415.8"/>
<path d="M435.85 273.6V284.9M434.9 273.6H436.8M434.9 284.9H436.8"/>
<path d="M443.95 282.7V288.2M443 282.7H444.9"/>
<path d="M464.95 269.6V281M464 269.6H465.9M464 281H465.9"/>
<path d="M473.05 261.4V266.8M472.1 261.4H474"/>
<path d="M494.05 262.3V273.2M493.1 262.3H495M493.1 273.2H495"/>
<path d="M502.15 249.5V255.5M501.2 249.5H503.1"/>
<path d="M523.15 242.6V253.2M522.2 242.6H524.1M522.2 253.2H524.1"/>
<path d="M531.25 263.2V269M530.3 263.2H532.2"/>
</g>
<path d="M436.05 273.9V271.3H445.35" stroke="#b4dcda" stroke-width="0.5" fill="none" stroke-dasharray="0.9 0.5"/>
<text x="440.15" y="269" font-size="3.5" font-weight="bold" fill="#111" stroke="none" letter-spacing="0.75" text-anchor="middle">**</text>
<path d="M465.15 261.2V258.6H474.45" stroke="#b4dcda" stroke-width="0.5" fill="none" stroke-dasharray="0.9 0.5"/>
<text x="469.25" y="256.7" font-size="3.5" font-weight="bold" fill="#111" stroke="none" letter-spacing="0.75" text-anchor="middle">**</text>
<path d="M494.25 250.3V247.7H503.55" stroke="#b4dcda" stroke-width="0.5" fill="none" stroke-dasharray="0.9 0.5"/>
<text x="498.35" y="245.8" font-size="3.5" font-weight="bold" fill="#111" stroke="none" letter-spacing="0.75" text-anchor="middle">**</text>
<path d="M523.35 242.7V240.1H532.65" stroke="#b4dcda" stroke-width="0.5" fill="none" stroke-dasharray="0.9 0.5"/>
<text x="527.45" y="238" font-size="3.5" font-weight="bold" fill="#111" stroke="none" letter-spacing="0.75" text-anchor="middle">**</text>
<text x="411.2" y="313.75" font-size="4.9" fill="#383838" text-anchor="middle">1d</text>
<text x="440.3" y="313.75" font-size="4.9" fill="#383838" text-anchor="middle">3d</text>
<text x="469.4" y="313.75" font-size="4.9" fill="#383838" text-anchor="middle">5d</text>
<text x="498.5" y="313.75" font-size="4.9" fill="#383838" text-anchor="middle">7d</text>
<text x="527.6" y="313.75" font-size="4.9" fill="#383838" text-anchor="middle">10d</text>
<text x="468.5" y="321.05" font-size="4.9" fill="#383838" text-anchor="middle">Time</text>
</g>
</svg>
</body>
</html>
